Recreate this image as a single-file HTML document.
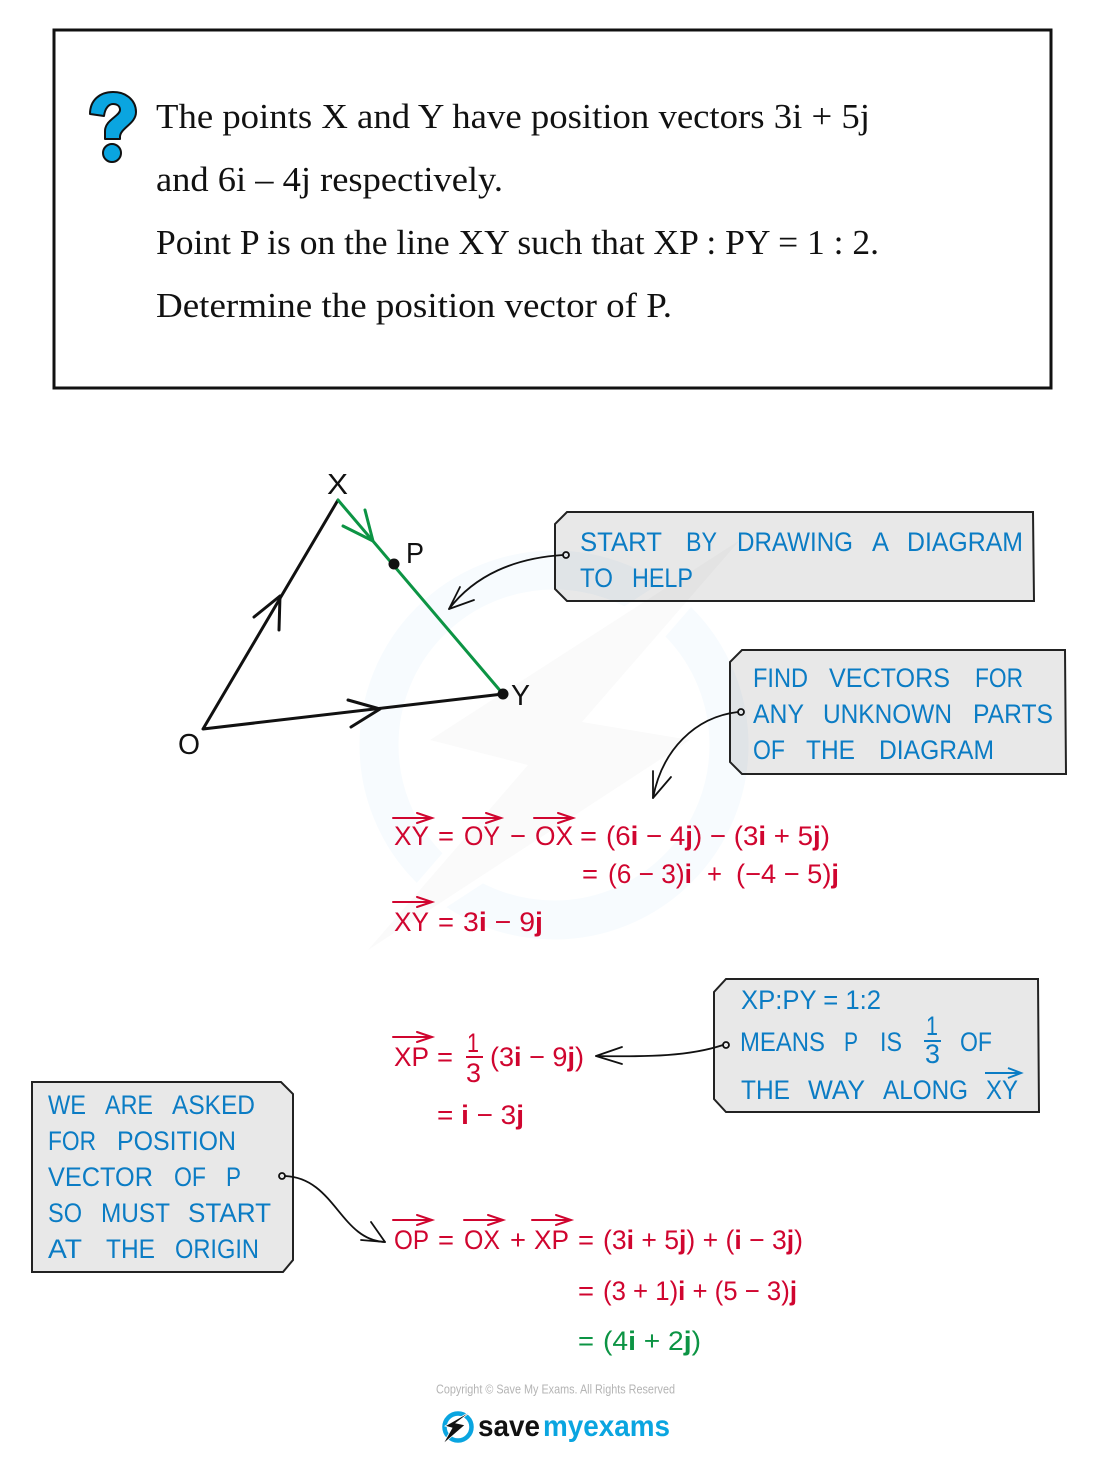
<!DOCTYPE html>
<html><head><meta charset="utf-8"><style>
html,body{margin:0;padding:0;background:#fff}
svg{display:block}
.s{font-family:"Liberation Serif",serif;font-size:35px;fill:#111}
.b text{font-family:"Liberation Sans",sans-serif;font-size:27px;fill:#0b7cc4}
.r text{font-family:"Liberation Sans",sans-serif;font-size:27px;fill:#d0052f}
.g text{font-family:"Liberation Sans",sans-serif;font-size:27px;fill:#0c9444}
.k text{font-family:"Liberation Sans",sans-serif;font-size:29px;fill:#111}
.w{font-weight:700}
.tag{fill:#000;fill-opacity:.09;stroke:#222;stroke-width:2}
.c{fill:none;stroke:#111;stroke-width:1.8}
.ar{fill:none;stroke:#d0052f;stroke-width:2}
</style></head><body>
<svg width="1100" height="1458" viewBox="0 0 1100 1458" xmlns="http://www.w3.org/2000/svg">
<rect width="1100" height="1458" fill="#fff"/>
<!-- watermark -->
<circle cx="554" cy="745" r="175" fill="none" stroke="#f7fbfe" stroke-width="39"/>
<polygon points="740,540 430,740 528,765 368,950 690,740 582,722" fill="#fafafa" stroke="#fff" stroke-width="14" stroke-linejoin="round" paint-order="stroke"/>
<!-- question box -->
<rect x="54" y="30" width="997" height="358" fill="none" stroke="#111" stroke-width="3"/>
<path d="M90,114 C90,100 100,92 113,92 C127,92 136,101 136,112 C136,124 120,128 120,137 L120,139 L105,139 L105,131 C105,120 120,116 120,110 C120,106 117,104 113,104 C109,104 105,108 104,116 Z" fill="#0aa5e0" stroke="#111" stroke-width="2" stroke-linejoin="round"/>
<circle cx="112" cy="153" r="9" fill="#0aa5e0" stroke="#111" stroke-width="2"/>
<text class="s" x="156" y="128" textLength="714" lengthAdjust="spacingAndGlyphs">The points X and Y have position vectors 3i + 5j</text>
<text class="s" x="156" y="191" textLength="347" lengthAdjust="spacingAndGlyphs">and 6i – 4j respectively.</text>
<text class="s" x="156" y="254" textLength="723" lengthAdjust="spacingAndGlyphs">Point P is on the line XY such that XP : PY = 1 : 2.</text>
<text class="s" x="156" y="317" textLength="516" lengthAdjust="spacingAndGlyphs">Determine the position vector of P.</text>
<!-- triangle -->
<g fill="none" stroke-linecap="round" stroke-linejoin="round">
<path d="M338,500 L203,729 L503,694" stroke="#111" stroke-width="3"/>
<path d="M254,617 L280,596 L279,630" stroke="#111" stroke-width="3"/>
<path d="M348,700 L380,709 L351,727" stroke="#111" stroke-width="3"/>
<path d="M338,500 L503,694" stroke="#0c9444" stroke-width="3"/>
<path d="M343,526 L373,541 L365,510" stroke="#0c9444" stroke-width="3"/>
</g>
<circle cx="394" cy="564" r="5.5" fill="#111"/>
<circle cx="503" cy="694" r="5.5" fill="#111"/>
<g class="k">
<text x="327" y="494" textLength="21" lengthAdjust="spacingAndGlyphs">X</text>
<text x="406" y="563" textLength="18" lengthAdjust="spacingAndGlyphs">P</text>
<text x="511" y="705" textLength="19" lengthAdjust="spacingAndGlyphs">Y</text>
<text x="178" y="754" textLength="22" lengthAdjust="spacingAndGlyphs">O</text>
</g>
<!-- tags -->
<path class="tag" d="M567,512 L1033,512 L1034,601 L567,601 L555,589 L555,524 Z"/>
<path class="tag" d="M742,650 L1065,650 L1066,774 L742,774 L730,762 L730,662 Z"/>
<path class="tag" d="M726,979 L1038,979 L1039,1112 L726,1112 L714,1099 L714,992 Z"/>
<path class="tag" d="M32,1082 L281,1082 L293,1094 L293,1260 L283,1272 L32,1272 Z"/>
<g class="b" transform="translate(0,-1)">
<text x="580" y="552" textLength="82" lengthAdjust="spacingAndGlyphs">START</text>
<text x="686" y="552" textLength="31" lengthAdjust="spacingAndGlyphs">BY</text>
<text x="737" y="552" textLength="116" lengthAdjust="spacingAndGlyphs">DRAWING</text>
<text x="872" y="552" textLength="17" lengthAdjust="spacingAndGlyphs">A</text>
<text x="907" y="552" textLength="116" lengthAdjust="spacingAndGlyphs">DIAGRAM</text>
<text x="580" y="588" textLength="33" lengthAdjust="spacingAndGlyphs">TO</text>
<text x="632" y="588" textLength="61" lengthAdjust="spacingAndGlyphs">HELP</text>

<text x="753" y="688" textLength="55" lengthAdjust="spacingAndGlyphs">FIND</text>
<text x="829" y="688" textLength="121" lengthAdjust="spacingAndGlyphs">VECTORS</text>
<text x="975" y="688" textLength="48" lengthAdjust="spacingAndGlyphs">FOR</text>
<text x="753" y="724" textLength="51" lengthAdjust="spacingAndGlyphs">ANY</text>
<text x="823" y="724" textLength="129" lengthAdjust="spacingAndGlyphs">UNKNOWN</text>
<text x="973" y="724" textLength="80" lengthAdjust="spacingAndGlyphs">PARTS</text>
<text x="753" y="760" textLength="32" lengthAdjust="spacingAndGlyphs">OF</text>
<text x="806" y="760" textLength="49" lengthAdjust="spacingAndGlyphs">THE</text>
<text x="879" y="760" textLength="115" lengthAdjust="spacingAndGlyphs">DIAGRAM</text>

<text x="741" y="1010" textLength="140" lengthAdjust="spacingAndGlyphs">XP:PY = 1:2</text>
<text x="740" y="1052" textLength="85" lengthAdjust="spacingAndGlyphs">MEANS</text>
<text x="844" y="1052" textLength="14" lengthAdjust="spacingAndGlyphs">P</text>
<text x="880" y="1052" textLength="22" lengthAdjust="spacingAndGlyphs">IS</text>
<text x="926" y="1036" textLength="12" lengthAdjust="spacingAndGlyphs">1</text>
<text x="925" y="1064" textLength="15" lengthAdjust="spacingAndGlyphs">3</text>
<text x="960" y="1052" textLength="32" lengthAdjust="spacingAndGlyphs">OF</text>
<text x="741" y="1100" textLength="49" lengthAdjust="spacingAndGlyphs">THE</text>
<text x="808" y="1100" textLength="57" lengthAdjust="spacingAndGlyphs">WAY</text>
<text x="883" y="1100" textLength="85" lengthAdjust="spacingAndGlyphs">ALONG</text>
<text x="986" y="1100" textLength="32" lengthAdjust="spacingAndGlyphs">XY</text>

<text x="48" y="1115" textLength="38" lengthAdjust="spacingAndGlyphs">WE</text>
<text x="105" y="1115" textLength="48" lengthAdjust="spacingAndGlyphs">ARE</text>
<text x="172" y="1115" textLength="83" lengthAdjust="spacingAndGlyphs">ASKED</text>
<text x="48" y="1151" textLength="48" lengthAdjust="spacingAndGlyphs">FOR</text>
<text x="117" y="1151" textLength="119" lengthAdjust="spacingAndGlyphs">POSITION</text>
<text x="48" y="1187" textLength="105" lengthAdjust="spacingAndGlyphs">VECTOR</text>
<text x="174" y="1187" textLength="32" lengthAdjust="spacingAndGlyphs">OF</text>
<text x="226" y="1187" textLength="15" lengthAdjust="spacingAndGlyphs">P</text>
<text x="48" y="1223" textLength="34" lengthAdjust="spacingAndGlyphs">SO</text>
<text x="101" y="1223" textLength="69" lengthAdjust="spacingAndGlyphs">MUST</text>
<text x="188" y="1223" textLength="83" lengthAdjust="spacingAndGlyphs">START</text>
<text x="48" y="1259" textLength="34" lengthAdjust="spacingAndGlyphs">AT</text>
<text x="106" y="1259" textLength="49" lengthAdjust="spacingAndGlyphs">THE</text>
<text x="175" y="1259" textLength="84" lengthAdjust="spacingAndGlyphs">ORIGIN</text>
</g>
<path d="M924,1041 L941,1041" stroke="#0b7cc4" stroke-width="2"/>
<path d="M985,1073 L1021,1073 M1008,1068 L1021,1073 L1008,1078" fill="none" stroke="#0b7cc4" stroke-width="2"/>
<!-- connectors -->
<g class="c" stroke-linecap="round">
<circle cx="566" cy="555" r="3" fill="none"/>
<path d="M563,555 C515,558 475,575 449,609"/><path d="M449,609 L474,600 M449,609 L460,587"/>
<circle cx="741" cy="712" r="3" fill="none"/>
<path d="M738,712 C695,717 662,750 653,798"/><path d="M653,798 L671,777 M653,798 L653,771"/>
<circle cx="726" cy="1045" r="3" fill="none"/>
<path d="M723,1045 C690,1056 650,1057 596,1056"/><path d="M596,1056 L622,1047 M596,1056 L622,1064"/>
<circle cx="282" cy="1176" r="3" fill="none"/>
<path d="M285,1176 C335,1178 340,1240 385,1242"/><path d="M385,1242 L371,1222 M385,1242 L361,1240"/>
</g>
<!-- red maths -->
<g class="r" transform="translate(0,-1)">
<text x="394" y="846" textLength="35" lengthAdjust="spacingAndGlyphs">XY</text>
<text x="438" y="846" textLength="16" lengthAdjust="spacingAndGlyphs">=</text>
<text x="464" y="846" textLength="36" lengthAdjust="spacingAndGlyphs">OY</text>
<text x="510" y="846" textLength="16" lengthAdjust="spacingAndGlyphs">−</text>
<text x="535" y="846" textLength="38" lengthAdjust="spacingAndGlyphs">OX</text>
<text x="580" y="846" textLength="17" lengthAdjust="spacingAndGlyphs">=</text>
<text x="606" y="846" textLength="224" lengthAdjust="spacingAndGlyphs">(6<tspan class="w">i</tspan> − 4<tspan class="w">j</tspan>) − (3<tspan class="w">i</tspan> + 5<tspan class="w">j</tspan>)</text>
<text x="582" y="884" textLength="16" lengthAdjust="spacingAndGlyphs">=</text>
<text x="608" y="884" textLength="84" lengthAdjust="spacingAndGlyphs">(6 − 3)<tspan class="w">i</tspan></text>
<text x="707" y="884" textLength="15" lengthAdjust="spacingAndGlyphs">+</text>
<text x="736" y="884" textLength="103" lengthAdjust="spacingAndGlyphs">(−4 − 5)<tspan class="w">j</tspan></text>
<text x="394" y="932" textLength="35" lengthAdjust="spacingAndGlyphs">XY</text>
<text x="438" y="932" textLength="16" lengthAdjust="spacingAndGlyphs">=</text>
<text x="463" y="932" textLength="80" lengthAdjust="spacingAndGlyphs">3<tspan class="w">i</tspan> − 9<tspan class="w">j</tspan></text>

<text x="394" y="1067" textLength="35" lengthAdjust="spacingAndGlyphs">XP</text>
<text x="437" y="1067" textLength="16" lengthAdjust="spacingAndGlyphs">=</text>
<text x="467" y="1053" textLength="12" lengthAdjust="spacingAndGlyphs">1</text>
<text x="466" y="1083" textLength="15" lengthAdjust="spacingAndGlyphs">3</text>
<text x="490" y="1067" textLength="94" lengthAdjust="spacingAndGlyphs">(3<tspan class="w">i</tspan> − 9<tspan class="w">j</tspan>)</text>
<text x="437" y="1125" textLength="87" lengthAdjust="spacingAndGlyphs">= <tspan class="w">i</tspan> − 3<tspan class="w">j</tspan></text>

<text x="394" y="1250" textLength="35" lengthAdjust="spacingAndGlyphs">OP</text>
<text x="438" y="1250" textLength="16" lengthAdjust="spacingAndGlyphs">=</text>
<text x="464" y="1250" textLength="36" lengthAdjust="spacingAndGlyphs">OX</text>
<text x="510" y="1250" textLength="16" lengthAdjust="spacingAndGlyphs">+</text>
<text x="534" y="1250" textLength="35" lengthAdjust="spacingAndGlyphs">XP</text>
<text x="578" y="1250" textLength="16" lengthAdjust="spacingAndGlyphs">=</text>
<text x="603" y="1250" textLength="200" lengthAdjust="spacingAndGlyphs">(3<tspan class="w">i</tspan> + 5<tspan class="w">j</tspan>) + (<tspan class="w">i</tspan> − 3<tspan class="w">j</tspan>)</text>
<text x="578" y="1301" textLength="16" lengthAdjust="spacingAndGlyphs">=</text>
<text x="603" y="1301" textLength="194" lengthAdjust="spacingAndGlyphs">(3 + 1)<tspan class="w">i</tspan> + (5 − 3)<tspan class="w">j</tspan></text>
</g>
<g class="g" transform="translate(0,-1)">
<text x="578" y="1351" textLength="16" lengthAdjust="spacingAndGlyphs">=</text>
<text x="603" y="1351" textLength="98" lengthAdjust="spacingAndGlyphs">(4<tspan class="w">i</tspan> + 2<tspan class="w">j</tspan>)</text>
</g>
<path d="M466,1057 L483,1057" stroke="#d0052f" stroke-width="2"/>
<g class="ar" stroke-linecap="round">
<path d="M393,818 L432,818 M417,813 L432,818 L417,823"/>
<path d="M463,818 L501,818 M486,813 L501,818 L486,823"/>
<path d="M534,818 L573,818 M558,813 L573,818 L558,823"/>
<path d="M393,902 L432,902 M417,897 L432,902 L417,907"/>
<path d="M393,1037 L432,1037 M417,1032 L432,1037 L417,1042"/>
<path d="M393,1220 L432,1220 M417,1215 L432,1220 L417,1225"/>
<path d="M464,1220 L503,1220 M488,1215 L503,1220 L488,1225"/>
<path d="M532,1220 L571,1220 M556,1215 L571,1220 L556,1225"/>
</g>
<!-- footer -->
<text x="436" y="1393.500" font-family="Liberation Sans,sans-serif" font-size="13" fill="#b4b4b4" textLength="239" lengthAdjust="spacingAndGlyphs">Copyright © Save My Exams. All Rights Reserved</text>
<circle cx="458" cy="1427" r="13.500" fill="none" stroke="#0aa5e0" stroke-width="4.500"/>
<polygon points="473,1410 456,1423 465,1425 443,1444 452,1428 445,1426" fill="#111" stroke="#fff" stroke-width=".8"/>
<text x="478" y="1436" font-family="Liberation Sans,sans-serif" font-size="30" font-weight="700" fill="#111" textLength="62" lengthAdjust="spacingAndGlyphs">save</text>
<text x="543" y="1436" font-family="Liberation Sans,sans-serif" font-size="30" font-weight="700" fill="#0aa5e0" textLength="127" lengthAdjust="spacingAndGlyphs">myexams</text>
</svg>
</body></html>
